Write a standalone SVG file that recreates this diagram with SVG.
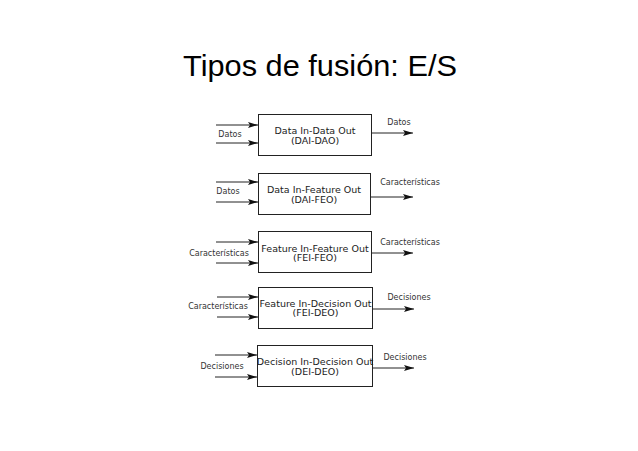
<svg xmlns="http://www.w3.org/2000/svg" width="638" height="451" viewBox="0 0 638 451">
<style>
.box{fill:#fff;stroke:#222;stroke-width:1}
.ln{stroke:#222;stroke-width:1;fill:none;marker-end:url(#ah)}
.t{font-family:"DejaVu Sans",sans-serif;font-size:9.5px;fill:#222;text-anchor:middle}
.s{font-family:"DejaVu Sans",sans-serif;font-size:8px;fill:#333;text-anchor:middle}
.title{font-family:"Liberation Sans",Arial,sans-serif;font-size:30px;fill:#000;text-anchor:middle}
</style>
<defs>
<marker id="ah" viewBox="0 0 10 6" refX="10" refY="3" markerWidth="10" markerHeight="6" markerUnits="userSpaceOnUse" orient="auto">
<path d="M0,0 L10,3 L0,6 L2,3 Z" fill="#111"/>
</marker>
</defs>
<rect width="638" height="451" fill="#fff"/>
<text class="title" x="320" y="76" textLength="274" lengthAdjust="spacingAndGlyphs">Tipos de fusión: E/S</text>

<g id="connectors">
<line class="ln" x1="216" y1="125" x2="258" y2="125"/>
<line class="ln" x1="216" y1="143" x2="258" y2="143"/>
<line class="ln" x1="372" y1="133" x2="413" y2="133"/>
<line class="ln" x1="216" y1="182" x2="258" y2="182"/>
<line class="ln" x1="216" y1="202" x2="258" y2="202"/>
<line class="ln" x1="371" y1="197" x2="413" y2="197"/>
<line class="ln" x1="216" y1="242" x2="258" y2="242"/>
<line class="ln" x1="216" y1="263" x2="258" y2="263"/>
<line class="ln" x1="372" y1="253" x2="413" y2="253"/>
<line class="ln" x1="217" y1="297" x2="258" y2="297"/>
<line class="ln" x1="217" y1="317" x2="258" y2="317"/>
<line class="ln" x1="373" y1="309" x2="414" y2="309"/>
<line class="ln" x1="215" y1="355" x2="257" y2="355"/>
<line class="ln" x1="215" y1="377" x2="257" y2="377"/>
<line class="ln" x1="373" y1="368" x2="414" y2="368"/>
<text class="s" x="230" y="137">Datos</text>
<text class="s" x="399" y="125">Datos</text>
<text class="s" x="228" y="194">Datos</text>
<text class="s" x="410" y="185">Características</text>
<text class="s" x="219" y="256">Características</text>
<text class="s" x="410" y="245">Características</text>
<text class="s" x="218" y="309">Características</text>
<text class="s" x="409" y="300">Decisiones</text>
<text class="s" x="222" y="369">Decisiones</text>
<text class="s" x="405" y="360">Decisiones</text>
</g>

<g id="n1"><rect class="box" x="258.5" y="114.5" width="113" height="41"/>
<text class="t" x="315" y="134">Data In-Data Out</text><text class="t" x="315" y="143.5">(DAI-DAO)</text></g>
<g id="n2"><rect class="box" x="258.5" y="173.5" width="112" height="41"/>
<text class="t" x="314" y="193">Data In-Feature Out</text><text class="t" x="314" y="202.5">(DAI-FEO)</text></g>
<g id="n3"><rect class="box" x="258.5" y="231.5" width="113" height="41"/>
<text class="t" x="315" y="251.5">Feature In-Feature Out</text><text class="t" x="315" y="261">(FEI-FEO)</text></g>
<g id="n4"><rect class="box" x="258.5" y="287.5" width="114" height="41"/>
<text class="t" x="315.5" y="306.5">Feature In-Decision Out</text><text class="t" x="315.5" y="316">(FEI-DEO)</text></g>
<g id="n5"><rect class="box" x="257.5" y="345.5" width="115" height="41"/>
<text class="t" x="315" y="365">Decision In-Decision Out</text><text class="t" x="315" y="374.5">(DEI-DEO)</text></g>
</svg>
